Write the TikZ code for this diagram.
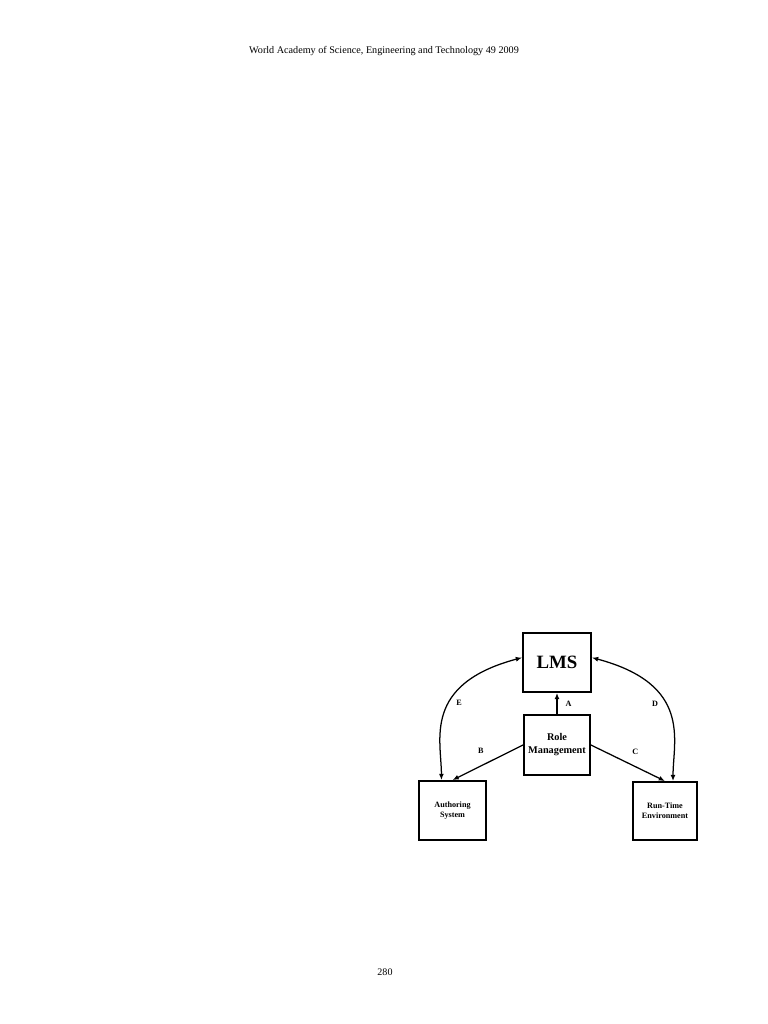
\documentclass[tikz,border=0pt]{standalone}
\usepackage{fontspec}
\setmainfont{Liberation Serif}
\usetikzlibrary{arrows.meta}
\begin{document}
\begin{tikzpicture}[x=0.797pt,y=-0.797pt,
		box/.style={draw,line width=1.5pt,align=center,inner sep=0pt,font=\bfseries},
		link/.style={line width=1pt,-{Latex[length=5pt,width=4pt]}},
		both/.style={line width=1pt,{Latex[length=5pt,width=4pt]}-{Latex[length=5pt,width=4pt]}},
		lab/.style={font=\fontsize{6.5}{7}\selectfont\bfseries}]
		\useasboundingbox (0,0) rectangle (768,1024);
		\node (head) at (384,51) {\fontsize{8.1}{9}\selectfont World Academy of Science, Engineering and Technology 49 2009};
		\node (page) at (385,972) {\fontsize{8}{9}\selectfont 280};
		\node[box,minimum width=68*0.797pt,minimum height=59*0.797pt,font=\fontsize{15}{17}\selectfont\bfseries] (lms) at (557,662.5) {LMS};
		\node[box,minimum width=66*0.797pt,minimum height=60*0.797pt,font=\fontsize{8.2}{10.4}\selectfont\bfseries] (role) at (557,745) {Role\\Management};
		\node[box,minimum width=67*0.797pt,minimum height=59*0.797pt,font=\fontsize{6.5}{8}\selectfont\bfseries] (auth) at (452.5,810.5) {Authoring\\System};
		\node[box,minimum width=64*0.797pt,minimum height=58*0.797pt,font=\fontsize{6.5}{8}\selectfont\bfseries] (rte) at (665,811) {Run-Time\\Environment};
		\draw[link] (role) -- node[lab,midway,right=3pt] {A} (lms);
		\draw[link] (role.west) -- node[lab,pos=0.6,above=6pt] {B} (auth.north);
		\draw[link] (role.east) -- node[lab,pos=0.6,above=6pt] {C} (rte.north);
		\draw[both] (lms.172) to[out=195,in=90,out looseness=1.8,in looseness=0.7] node[lab,pos=0.42,right=2pt] {E} (auth.110);
		\draw[both] (lms.8) to[out=-15,in=90,out looseness=1.8,in looseness=0.7] node[lab,pos=0.42,left=2pt] {D} (rte.75);
\end{tikzpicture}
\end{document}
